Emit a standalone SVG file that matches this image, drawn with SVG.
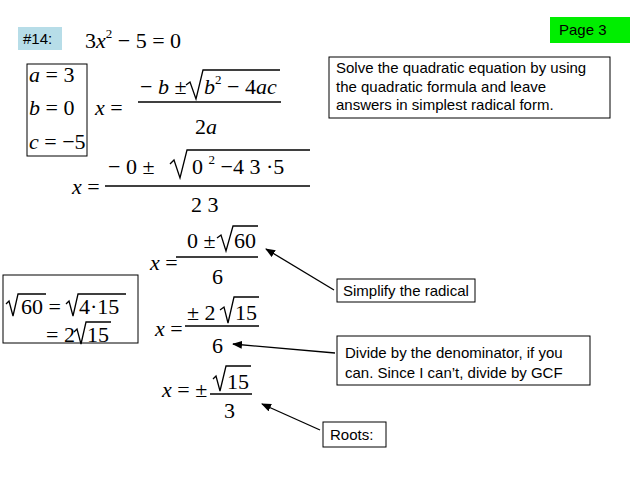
<svg xmlns="http://www.w3.org/2000/svg" width="638" height="478" viewBox="0 0 638 478">
<defs>
<marker id="ah" markerWidth="10" markerHeight="8" refX="9" refY="4" orient="auto" markerUnits="userSpaceOnUse"><path d="M0,0 L10,4 L0,8 Z" fill="#000"/></marker>
<style>
.m{font-family:"Liberation Serif",serif;font-size:22px;fill:#000}
.i{font-style:italic}
.s{font-family:"Liberation Sans",sans-serif;font-size:15px;fill:#000}
.ln{stroke:#000;stroke-width:1.3;fill:none}
.bx{fill:#fff;stroke:#000;stroke-width:1}
</style>
</defs>
<rect width="638" height="478" fill="#fff"/>
<g id="label14"><rect x="18" y="27" width="44" height="23" fill="#b7dde8"/><text class="s" x="23" y="44">#14:</text></g>
<g id="equation"><text class="m" x="85" y="48">3<tspan class="i">x</tspan><tspan font-size="13" dy="-10">2</tspan><tspan dy="10"> − 5 = 0</tspan></text></g>
<g id="page3"><rect x="550" y="17" width="80" height="26" fill="#00ee00"/><text class="s" x="559" y="35" font-size="16">Page 3</text></g>
<g id="coeffs"><rect class="bx" x="27" y="64" width="60" height="92"/>
<text class="m" x="29" y="82"><tspan class="i">a</tspan> = 3</text>
<text class="m" x="29" y="115"><tspan class="i">b</tspan> = 0</text>
<text class="m" x="29" y="149"><tspan class="i">c</tspan> = −5</text></g>
<g id="formula">
<text class="m" x="95" y="115"><tspan class="i">x</tspan> =</text>
<text class="m" x="140" y="94">− <tspan class="i">b</tspan> ±</text>
<path class="ln" d="M186,85 L190,82 L196,99 L203,70 L280,70"/>
<text class="m" x="204" y="94"><tspan class="i">b</tspan><tspan font-size="13" dy="-10">2</tspan><tspan dy="10"> − 4</tspan><tspan class="i">ac</tspan></text>
<line class="ln" x1="138" y1="102" x2="281" y2="102"/>
<text class="m" x="195" y="134">2<tspan class="i">a</tspan></text></g>
<g id="substitution">
<text class="m" x="72" y="194"><tspan class="i">x</tspan> =</text>
<text class="m" x="108" y="174">−  0  ±</text>
<path class="ln" d="M170,164 L174,160 L180,178 L187,150 L310,150"/>
<text class="m" x="192" y="174">0 <tspan font-size="13" dy="-10">2</tspan><tspan dy="10"> −4 3  ·5</tspan></text>
<line class="ln" x1="105" y1="186" x2="310" y2="186"/>
<text class="m" x="191" y="212">2 3</text></g>
<g id="step1">
<text class="m" x="150" y="270"><tspan class="i">x</tspan> =</text>
<text class="m" x="187" y="248">0 ±</text>
<path class="ln" d="M217,238 L221,235 L226,251 L233,226 L258,226"/>
<text class="m" x="234" y="248">60</text>
<line class="ln" x1="176" y1="257" x2="258" y2="257"/>
<text class="m" x="212" y="284">6</text></g>
<g id="simplify">
<rect class="bx" x="3" y="275" width="135" height="68"/>
<path class="ln" d="M6,304 L9,301 L13,316 L18,294 L46,294"/>
<text class="m" x="21" y="314">60 =</text>
<path class="ln" d="M66,304 L69,301 L73,316 L78,294 L126,294"/>
<text class="m" x="79" y="314">4·15</text>
<text class="m" x="46" y="342">= 2</text>
<path class="ln" d="M74,332 L77,329 L81,344 L86,322 L111,322"/>
<text class="m" x="87" y="342">15</text></g>
<g id="step2">
<text class="m" x="155" y="336"><tspan class="i">x</tspan> =</text>
<text class="m" x="187" y="320">± 2</text>
<path class="ln" d="M220,310 L224,307 L228,323 L234,297 L259,297"/>
<text class="m" x="235" y="320">15</text>
<line class="ln" x1="185" y1="326" x2="259" y2="326"/>
<text class="m" x="212" y="353">6</text></g>
<g id="step3">
<text class="m" x="162" y="397"><tspan class="i">x</tspan> = ±</text>
<path class="ln" d="M213,379 L216,376 L220,391 L226,366 L251,366"/>
<text class="m" x="227" y="389">15</text>
<line class="ln" x1="210" y1="394" x2="252" y2="394"/>
<text class="m" x="224" y="418">3</text></g>
<g id="instructions"><rect class="bx" x="329" y="57" width="281" height="61"/><text class="s"><tspan x="336" y="73">Solve the quadratic equation by using</tspan><tspan x="336" y="92">the quadratic formula and leave</tspan><tspan x="336" y="110">answers in simplest radical form.</tspan></text></g>
<g id="callout1"><rect class="bx" x="337" y="279" width="138" height="23"/><text class="s" x="343" y="296">Simplify the radical</text></g>
<g id="callout2"><rect class="bx" x="337" y="336" width="253" height="49"/><text class="s"><tspan x="345" y="358">Divide by the denominator, if you</tspan><tspan x="345" y="378">can.  Since I can’t, divide by GCF</tspan></text></g>
<g id="callout3"><rect class="bx" x="323" y="422" width="63" height="25"/><text class="s" x="330" y="440">Roots:</text></g>
<g id="connectors">
<line class="ln" stroke-width="1" x1="334" y1="290" x2="266" y2="249" marker-end="url(#ah)"/>
<line class="ln" stroke-width="1" x1="335" y1="353" x2="233" y2="344" marker-end="url(#ah)"/>
<line class="ln" stroke-width="1" x1="320" y1="430" x2="262" y2="404" marker-end="url(#ah)"/>
</g>
</svg>
